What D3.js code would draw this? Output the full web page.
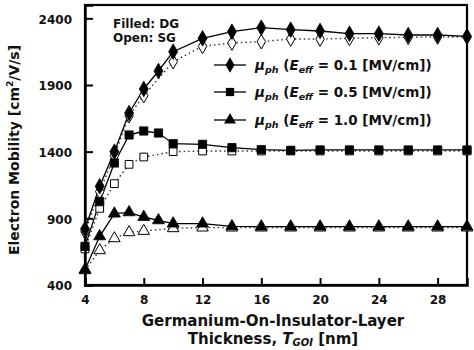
<!DOCTYPE html>
<html>
<head>
<meta charset="utf-8">
<script src="https://cdn.jsdelivr.net/npm/d3@7"></script>
<style>
  body { margin: 0; background: #fff; }
  svg text { font-family: "DejaVu Sans", Verdana, sans-serif; }
</style>
</head>
<body>
<svg id="chart" width="474" height="350"></svg>
<script>
// thickness values (nm)
var xFilled = [4, 5, 6, 7, 8, 9, 10, 12, 14, 16, 18, 20, 22, 24, 26, 28, 30];
var xOpen = [4, 5, 6, 7, 8, 10, 12, 14, 16, 18, 20, 22, 24, 26, 28, 30];

// DG (filled) mobility
var dg01 = [820, 1140, 1400, 1690, 1870, 2005, 2150, 2250, 2300, 2330, 2315, 2305, 2285, 2285, 2275, 2275, 2265];
var dg05 = [690, 1025, 1315, 1525, 1555, 1540, 1460, 1455, 1430, 1415, 1410, 1413, 1413, 1413, 1413, 1413, 1413];
var dg10 = [515, 765, 935, 945, 910, 885, 860, 860, 840, 838, 838, 838, 838, 838, 838, 838, 838];

// SG (open) mobility
var sg01 = [800, 1100, 1370, 1670, 1820, 2075, 2190, 2215, 2225, 2245, 2245, 2250, 2255, 2258, 2260, 2260];
var sg05 = [670, 975, 1160, 1305, 1360, 1400, 1405, 1405, 1405, 1405, 1405, 1405, 1405, 1405, 1405, 1405];
var sg10 = [510, 660, 750, 795, 805, 825, 830, 830, 830, 830, 830, 830, 830, 830, 830, 830];

var xTicks = [4, 8, 12, 16, 20, 24, 28];
var yTicks = [400, 900, 1400, 1900, 2400];
var legendLabels = ['0.1', '0.5', '1.0'];

var svg = d3.select('#chart');
var margin = {left: 85, right: 7, top: 5, bottom: 65};
var W = 474, H = 350;

var x = d3.scaleLinear().domain([4, 30]).range([margin.left, W - margin.right]);
var y = d3.scaleLinear().domain([400, 2500]).range([H - margin.bottom, margin.top]);

var series = [
    {xs: xFilled, ys: dg01, shape: d3.symbolDiamond, size: 70, fill: true},
    {xs: xFilled, ys: dg05, shape: d3.symbolSquare, size: 68, fill: true},
    {xs: xFilled, ys: dg10, shape: d3.symbolTriangle, size: 62, fill: true},
    {xs: xOpen, ys: sg01, shape: d3.symbolDiamond, size: 62, fill: false},
    {xs: xOpen, ys: sg05, shape: d3.symbolSquare, size: 60, fill: false},
    {xs: xOpen, ys: sg10, shape: d3.symbolTriangle, size: 58, fill: false}
];

var line = d3.line()
    .x(d => x(d[0]))
    .y(d => y(d[1]));

// frame
svg.append('rect')
    .attr('x', x(4)).attr('y', y(2500))
    .attr('width', x(30) - x(4)).attr('height', y(400) - y(2500))
    .attr('fill', 'none').attr('stroke', '#000').attr('stroke-width', 2.2);

// lines first (open series under filled)
series.slice().reverse().forEach(s => {
    var pts = s.xs.map((v, i) => [v, s.ys[i]]);
    svg.append('path')
        .attr('d', line(pts))
        .attr('fill', 'none')
        .attr('stroke', s.fill ? '#000' : '#333')
        .attr('stroke-width', s.fill ? 1.3 : 1.4)
        .attr('stroke-dasharray', s.fill ? null : '1.5,3');
});

series.slice().reverse().forEach(s => {
    var pts = s.xs.map((v, i) => [v, s.ys[i]]);
    svg.append('g').selectAll('path')
        .data(pts)
        .enter().append('path')
        .attr('transform', d => 'translate(' + x(d[0]) + ',' + y(d[1]) + ')')
        .attr('d', d3.symbol().type(s.shape).size(s.size))
        .attr('fill', s.fill ? '#000' : '#fff')
        .attr('stroke', '#000')
        .attr('stroke-width', s.fill ? 0.8 : 1);
});

// axes, ticks pointing inward
var xAxis = svg.append('g')
    .attr('transform', 'translate(0,' + y(400) + ')')
    .call(d3.axisBottom(x).tickValues(xTicks).tickSize(-7).tickPadding(10).tickFormat(d3.format('d')));
var yAxis = svg.append('g')
    .attr('transform', 'translate(' + x(4) + ',0)')
    .call(d3.axisLeft(y).tickValues(yTicks).tickSize(-8).tickPadding(13).tickFormat(d3.format('d')));

[xAxis, yAxis].forEach(a => {
    a.select('.domain').attr('stroke-width', 2.4).attr('stroke', '#000');
    a.selectAll('.tick line').attr('stroke-width', 2).attr('stroke', '#000');
    a.selectAll('.tick text')
        .attr('font-family', '"DejaVu Sans", Verdana, sans-serif')
        .attr('font-size', 12).attr('font-weight', 'bold').attr('fill', '#111');
});
yAxis.selectAll('.tick text').attr('dy', '0.4em');

// axis titles
svg.append('text')
    .attr('x', 273).attr('y', 326)
    .attr('text-anchor', 'middle')
    .attr('font-size', 15).attr('font-weight', 'bold').attr('fill', '#111')
    .text('Germanium-On-Insulator-Layer');
var xt2 = svg.append('text')
    .attr('x', 273).attr('y', 344)
    .attr('text-anchor', 'middle')
    .attr('font-size', 15).attr('font-weight', 'bold').attr('fill', '#111');
xt2.append('tspan').text('Thickness, ');
xt2.append('tspan').attr('font-style', 'italic').text('T');
xt2.append('tspan').attr('font-style', 'italic').attr('font-size', 10).attr('dy', 2).text('GOI');
xt2.append('tspan').attr('dy', -2).text(' [nm]');

var yt = svg.append('text')
    .attr('transform', 'translate(19,150) rotate(-90)')
    .attr('text-anchor', 'middle')
    .attr('font-family', '"Open Sans", sans-serif')
    .attr('font-size', 14).attr('font-weight', 'bold').attr('fill', '#111');
yt.append('tspan').text('Electron Mobility [cm');
yt.append('tspan').attr('font-size', 9).attr('dy', -6).text('2');
yt.append('tspan').attr('dy', 6).text('/V/s]');

// Filled / Open note
svg.append('text').attr('x', 113).attr('y', 28)
    .attr('font-size', 12).attr('font-weight', 'bold').attr('fill', '#111')
    .text('Filled: DG');
svg.append('text').attr('x', 113).attr('y', 42)
    .attr('font-size', 12).attr('font-weight', 'bold').attr('fill', '#111')
    .text('Open: SG');

// legend
var legendY = [65, 92, 120];
series.slice(0, 3).forEach((s, i) => {
    var g = svg.append('g').attr('transform', 'translate(0,' + legendY[i] + ')');
    g.append('line').attr('x1', 214).attr('x2', 246)
        .attr('stroke', '#000').attr('stroke-width', 1.3);
    g.append('path').attr('transform', 'translate(230,0)')
        .attr('d', d3.symbol().type(s.shape).size(s.size)).attr('fill', '#000');
    var t = g.append('text').attr('x', 255).attr('y', 5)
        .attr('font-size', 13.5).attr('font-weight', 'bold').attr('fill', '#111');
    t.append('tspan').attr('font-style', 'italic').text('μ');
    t.append('tspan').attr('font-style', 'italic').attr('font-size', 9.5).attr('dy', 3).text('ph');
    t.append('tspan').attr('dy', -3).text(' (');
    t.append('tspan').attr('font-style', 'italic').text('E');
    t.append('tspan').attr('font-style', 'italic').attr('font-size', 9.5).attr('dy', 3).text('eff');
    t.append('tspan').attr('dy', -3).text(' = ' + legendLabels[i] + ' [MV/cm])');
});
</script>
</body>
</html>
